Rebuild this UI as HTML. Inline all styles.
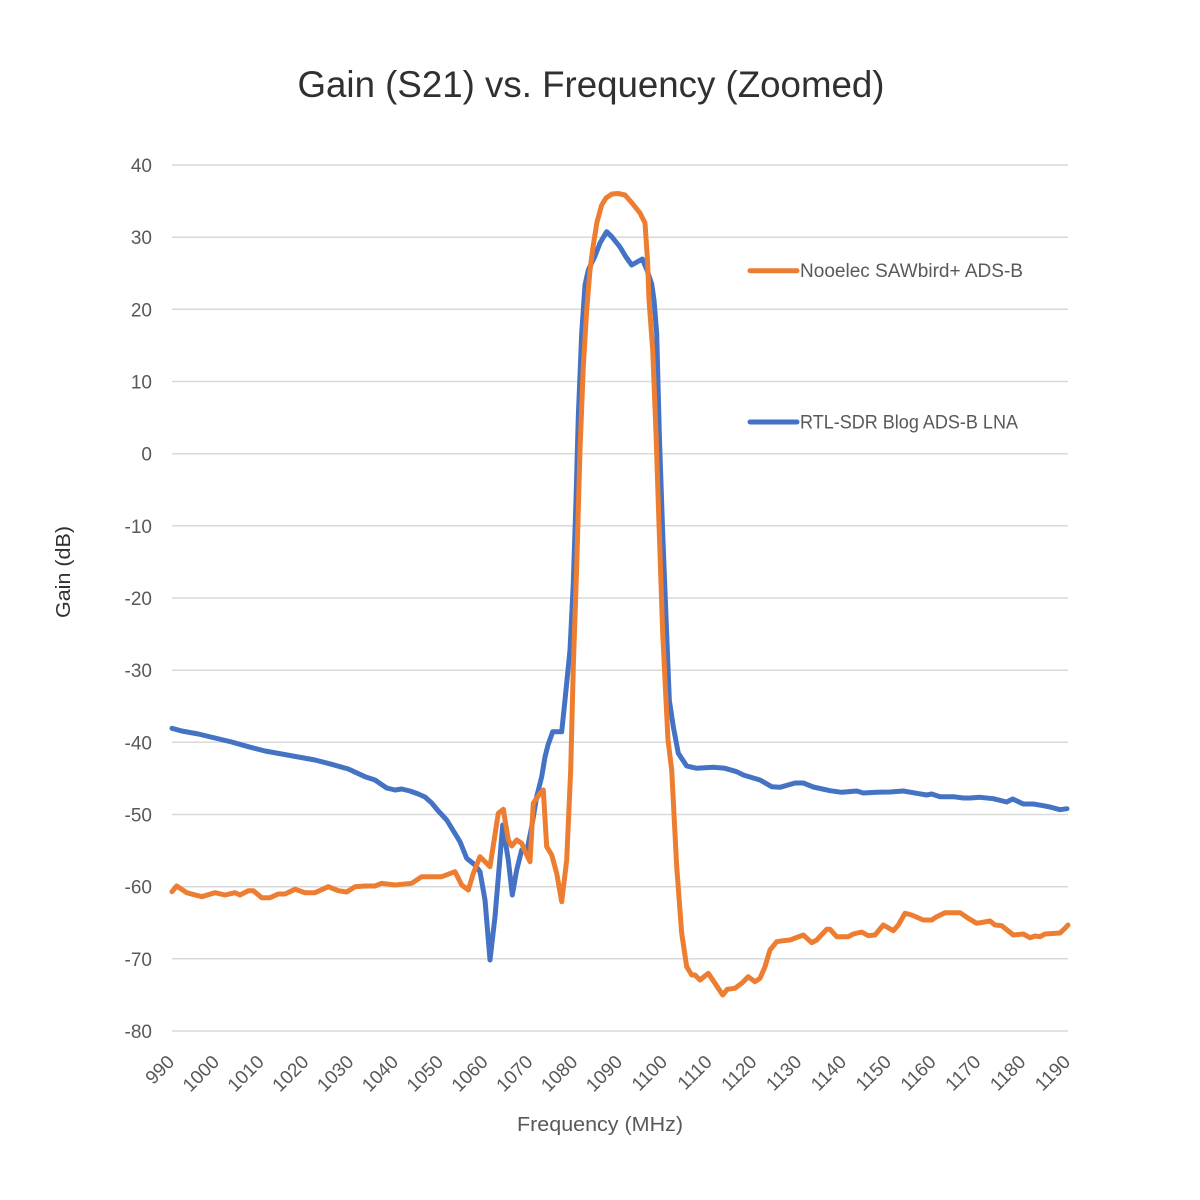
<!DOCTYPE html>
<html>
<head>
<meta charset="utf-8">
<style>
  html, body { margin: 0; padding: 0; background: #ffffff; }
  svg { display: block; }
  text { font-family: "Liberation Sans", "DejaVu Sans", sans-serif; }
</style>
</head>
<body>
<svg width="1200" height="1200" viewBox="0 0 1200 1200" xmlns="http://www.w3.org/2000/svg">
  <rect x="0" y="0" width="1200" height="1200" fill="#ffffff"/>

  <!-- Title -->
  <text x="591" y="97" text-anchor="middle" font-size="37" fill="#303030" textLength="587" lengthAdjust="spacingAndGlyphs">Gain (S21) vs. Frequency (Zoomed)</text>

  <!-- Gridlines -->
  <g stroke="#d9d9d9" stroke-width="1.5" fill="none">
    <line x1="172" y1="165" x2="1068" y2="165"/>
    <line x1="172" y1="237.2" x2="1068" y2="237.2"/>
    <line x1="172" y1="309.3" x2="1068" y2="309.3"/>
    <line x1="172" y1="381.5" x2="1068" y2="381.5"/>
    <line x1="172" y1="453.7" x2="1068" y2="453.7"/>
    <line x1="172" y1="525.8" x2="1068" y2="525.8"/>
    <line x1="172" y1="598" x2="1068" y2="598"/>
    <line x1="172" y1="670.2" x2="1068" y2="670.2"/>
    <line x1="172" y1="742.3" x2="1068" y2="742.3"/>
    <line x1="172" y1="814.5" x2="1068" y2="814.5"/>
    <line x1="172" y1="886.7" x2="1068" y2="886.7"/>
    <line x1="172" y1="958.8" x2="1068" y2="958.8"/>
    <line x1="172" y1="1031" x2="1068" y2="1031"/>
  </g>

  <!-- Y tick labels -->
  <g font-size="19" fill="#595959" text-anchor="end">
    <text x="152" y="172">40</text>
    <text x="152" y="244.2">30</text>
    <text x="152" y="316.3">20</text>
    <text x="152" y="388.5">10</text>
    <text x="152" y="460.7">0</text>
    <text x="152" y="532.8">-10</text>
    <text x="152" y="605">-20</text>
    <text x="152" y="677.2">-30</text>
    <text x="152" y="749.3">-40</text>
    <text x="152" y="821.5">-50</text>
    <text x="152" y="893.7">-60</text>
    <text x="152" y="965.8">-70</text>
    <text x="152" y="1038">-80</text>
  </g>

  <!-- X tick labels (rotated -45) -->
  <g font-size="19" fill="#595959" text-anchor="end">
    <text transform="translate(175.5,1063) rotate(-45)">990</text>
    <text transform="translate(220.3,1063) rotate(-45)">1000</text>
    <text transform="translate(265.1,1063) rotate(-45)">1010</text>
    <text transform="translate(309.9,1063) rotate(-45)">1020</text>
    <text transform="translate(354.7,1063) rotate(-45)">1030</text>
    <text transform="translate(399.5,1063) rotate(-45)">1040</text>
    <text transform="translate(444.3,1063) rotate(-45)">1050</text>
    <text transform="translate(489.1,1063) rotate(-45)">1060</text>
    <text transform="translate(533.9,1063) rotate(-45)">1070</text>
    <text transform="translate(578.7,1063) rotate(-45)">1080</text>
    <text transform="translate(623.5,1063) rotate(-45)">1090</text>
    <text transform="translate(668.3,1063) rotate(-45)">1100</text>
    <text transform="translate(713.1,1063) rotate(-45)">1110</text>
    <text transform="translate(757.9,1063) rotate(-45)">1120</text>
    <text transform="translate(802.7,1063) rotate(-45)">1130</text>
    <text transform="translate(847.5,1063) rotate(-45)">1140</text>
    <text transform="translate(892.3,1063) rotate(-45)">1150</text>
    <text transform="translate(937.1,1063) rotate(-45)">1160</text>
    <text transform="translate(981.9,1063) rotate(-45)">1170</text>
    <text transform="translate(1026.7,1063) rotate(-45)">1180</text>
    <text transform="translate(1071.5,1063) rotate(-45)">1190</text>
  </g>

  <!-- Axis titles -->
  <text x="600" y="1131" text-anchor="middle" font-size="20" fill="#595959" textLength="166" lengthAdjust="spacingAndGlyphs">Frequency (MHz)</text>
  <text transform="translate(70,572) rotate(-90)" text-anchor="middle" font-size="20" fill="#303030" textLength="92" lengthAdjust="spacingAndGlyphs">Gain (dB)</text>

  <!-- Blue series: RTL-SDR Blog ADS-B LNA -->
  <polyline fill="none" stroke="#4472C4" stroke-width="5" stroke-linejoin="round" stroke-linecap="round"
    points="172,728.3 181.7,731 198.3,734 215,738 231.7,742 248.3,746.7 265,751 281.7,754 298.3,757 315,760 331.7,764.3 348.3,769 365,776.7 375,780 386.7,788 395,790 401.7,789 410,791 418.3,794 425,797 431.7,803 438.3,811 446.7,820 460,841.7 466.7,858.3 475,865 480,871.7 485,900 490,960 495,916.7 502.7,825 508.3,860 512.3,895 516.7,870 521.7,850 526.7,851.7 531.7,826.7 536.7,796.7 541.7,776.7 545,757 548,745 552.7,731.7 561.7,731.7 565,700 570,650 573.3,583.3 576,500 578.3,416.7 581.7,333.3 583.3,310 585,285 588.3,270 595,256 600,243 606.7,231.7 612,237 620,247 626,257 631.7,265 637,262 642.3,259 647,270 651.7,284 654,300 656.7,333.3 659.3,433.3 662.7,533.3 666,616.7 669.3,700 673.3,726.7 678.3,753.3 686.7,766 696.7,768.3 713.3,767.3 725,768.3 736.7,771.7 743.3,775 760,780 771.7,786.7 780,787.3 795,783 803.3,783 813.3,787 830,790.7 841.7,792.3 856.7,791 863.3,793 876.7,792.3 890,792 903.3,791 916.7,793.3 926.7,795 931.7,794 940,796.7 953.3,796.7 963.3,798 970,798 980,797.3 993.3,798.7 1006.7,802 1012.7,799 1023.3,804 1033.3,804 1043.3,805.7 1050,807 1060,809.7 1067,808.7"/>

  <!-- Orange series: Nooelec SAWbird+ ADS-B -->
  <polyline fill="none" stroke="#ED7D31" stroke-width="5" stroke-linejoin="round" stroke-linecap="round"
    points="172,891.7 176.7,886 186.7,892.7 201.7,896.7 215,892.7 225,895 235,892.7 240,895 248.3,890.7 253.3,890.7 261.7,897.7 270,897.7 278.3,894 285,894 295,889.3 305,892.7 315,892.7 328.3,886.7 338.3,890.7 346.7,892 355,886.7 365,886 375,886 381.7,883.3 395,885 411.7,883.3 421.7,876.7 431.7,876.7 441.7,876.7 455,871.7 461.7,885 468.3,890 473.3,873.3 480,856.7 483.3,860 490,866.7 498.3,813.3 503.3,809.3 508.3,840 511.7,846 516.7,840 521.7,843.3 526.7,855 530,861.7 533.3,803.3 540,793.3 543.3,790 546.7,846.7 551.7,855 556.7,873.3 561.7,901.7 566.7,860 570.7,770 573.3,666.7 576.7,566.7 580,450 583.3,366.7 586.7,310 590,270 593,247 597,222 601.7,205 606,198 612,194 618,193.5 625,195 632,203 640,213 645,223 647.5,260 649,300 652.7,350 656,433 659.3,533 662.7,633 666,700 668,740 671.7,770 676.7,866.7 681.7,933.3 686.7,966.7 691.7,975 695,975 700,980 708.3,973.3 715,983.3 722.7,995 727.3,989.3 735,988.3 741.7,983.3 748.3,976.7 755,981.7 760,978.3 765,966.7 770,950 776.7,941.7 783.3,940.7 790,940 803.3,935 811.7,942.7 816.7,940 826.7,929.3 830,929.3 836.7,936.7 848.3,936.7 853.3,934 861.7,932 868.3,935.7 875,935 883.3,925 893.3,930.7 898.3,925 905,913.3 911.7,915 923.3,920 931.7,920 936.7,916.7 945,912.7 960,912.7 968.3,918.3 976.7,923.3 990,921 995,925 1001.7,925.7 1013.3,935 1023.3,934 1030,937.7 1035,936 1040,936.7 1045,934 1060,933 1065,928.3 1068,925"/>

  <!-- Legend -->
  <line x1="750" y1="270.7" x2="797" y2="270.7" stroke="#ED7D31" stroke-width="5" stroke-linecap="round"/>
  <text x="800" y="277" font-size="19" fill="#595959" textLength="223" lengthAdjust="spacingAndGlyphs">Nooelec SAWbird+ ADS-B</text>
  <line x1="750" y1="422" x2="797" y2="422" stroke="#4472C4" stroke-width="5" stroke-linecap="round"/>
  <text x="800" y="428.5" font-size="19" fill="#595959" textLength="218" lengthAdjust="spacingAndGlyphs">RTL-SDR Blog ADS-B LNA</text>
</svg>
</body>
</html>
